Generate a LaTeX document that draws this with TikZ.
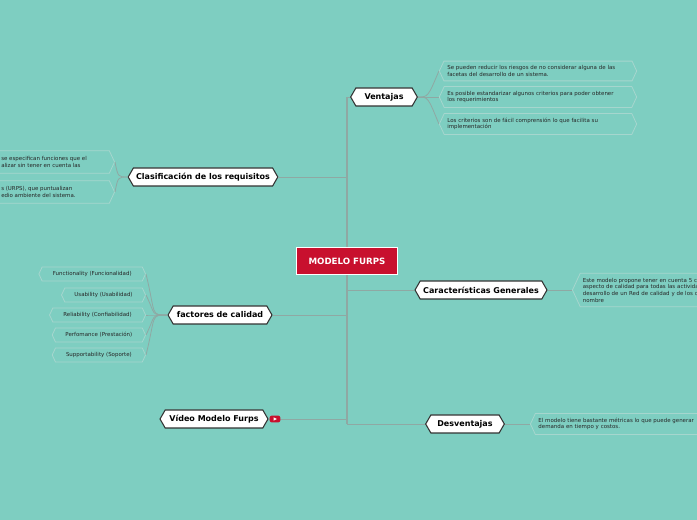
\documentclass[tikz,border=0pt]{standalone}
\usepackage{fontspec}
\setmainfont{DejaVu Sans}
\usetikzlibrary{shapes.symbols}
\definecolor{bg}{HTML}{7ECEC1}
\definecolor{ln}{HTML}{8FA8A3}
\definecolor{lf}{HTML}{A6D6CE}
\definecolor{fr}{HTML}{C8102E}
\tikzset{
  mainnode/.style={signal, signal to=west and east, signal pointer angle=120, draw=black!80, line width=0.8pt, fill=white, font=\bfseries\fontsize{6}{7}\selectfont, text=black, minimum height=13.5pt, inner xsep=2pt},
  leaf/.style={signal, signal to=west and east, signal pointer angle=130, draw=lf, line width=0.6pt, font=\fontsize{4.1}{5}\selectfont, text=black!85, minimum height=14pt, align=left, inner xsep=2pt},
  leaftext/.style={font=\fontsize{4.1}{5}\selectfont, text=black!85, align=left, inner sep=0pt, anchor=west},
  con/.style={draw=ln, line width=0.6pt},
}
\begin{document}
\begin{tikzpicture}[x=0.75pt,y=-0.75pt]
\fill[bg] (0,0) rectangle (697,520);
\useasboundingbox (0,0) rectangle (697,520);
\clip (0,0) rectangle (697,520);
% trunk
\coordinate (t1) at (347,97); \coordinate (t2) at (347,424);
\draw[con, line width=0.9pt] (t1) -- (t2);
% center
\node[fill=fr, draw=white, line width=1pt, minimum width=76pt, minimum height=20pt, font=\bfseries\fontsize{6.5}{7}\selectfont, text=white] (c) at (347,261) {MODELO FURPS};
% main nodes
\node[mainnode, minimum width=50pt] (v) at (384,97) {Ventajas};
\node[mainnode, minimum width=110pt] (cl) at (203,177) {Clasificación de los requisitos};
\node[mainnode, minimum width=99pt] (ca) at (481,290) {Características Generales};
\node[mainnode, minimum width=78pt] (fa) at (220,315) {factores de calidad};
\node[mainnode, minimum width=81pt] (vi) at (214,419) {Vídeo Modelo Furps};
\node[mainnode, minimum width=59pt] (de) at (465,424) {Desventajas};
\coordinate (tcl) at (347,177); \coordinate (tca) at (347,290);
\coordinate (tfa) at (347,315); \coordinate (tvi) at (347,419);
\draw[con] (tcl) -- (cl.east); \draw[con] (tca) -- (ca.west);
\draw[con] (tfa) -- (fa.east); \draw[con] (tvi) -- (vi.east);
\draw[con] (t2) -- (de.west); \draw[con] (t1) -- (v.west);
% youtube icon
\node[fill=fr, rounded corners=1.5pt, minimum width=8pt, minimum height=5pt, inner sep=0pt] (yt) at (275,419) {};
\fill[white] ([xshift=-1pt,yshift=1.2pt]yt.center) -- ([xshift=1.4pt]yt.center) -- ([xshift=-1pt,yshift=-1.2pt]yt.center) -- cycle;
% Ventajas leaves
\node[leaf, minimum width=148pt, text width=136pt] (v1) at (538,71) {Se pueden reducir los riesgos de no considerar alguna de las\\facetas del desarrollo de un sistema.};
\node[leaf, minimum width=148pt, text width=136pt] (v2) at (538,97) {Es posible estandarizar algunos criterios para poder obtener\\los requerimientos};
\node[leaf, minimum width=148pt, text width=136pt] (v3) at (538,124) {Los criterios son de fácil comprensión lo que facilita su\\implementación};
\foreach \n in {v1,v2,v3} \draw[con] (v.east) .. controls (428,97) and (428,97) .. (\n.west);
% Clasificacion leaves
\node[leaf, anchor=east, minimum width=160pt, minimum height=17pt] (c1) at (115,162) {};
\node[leaf, anchor=east, minimum width=160pt, minimum height=17pt] (c2) at (115,192) {};
\node[leaftext] (c1t) at (1,162) {se especifican funciones que el\\alizar sin tener en cuenta las};
\node[leaftext] (c2t) at (1,192) {s (URPS), que puntualizan\\edio ambiente del sistema.};
\foreach \n in {c1,c2} \draw[con] (cl.west) .. controls (118,177) and (118,177) .. (\n.east);
% Caracteristicas leaf
\node[leaf, minimum width=150pt, minimum height=25pt, text width=138pt, anchor=west] (ca1) at (572,290) {Este modelo propone tener en cuenta 5 c\\aspecto de calidad para todas las activida\\desarrollo de un Red de calidad y de los c\\nombre};
\draw[con] (ca.east) -- (ca1.west);
% Desventajas leaf
\node[leaf, minimum width=150pt, text width=138pt, anchor=west] (de1) at (530,424) {El modelo tiene bastante métricas lo que puede generar\\demanda en tiempo y costos.};
\draw[con] (de.east) -- (de1.west);
% factores leaves
\tikzset{fl/.style={leaf, anchor=east, minimum height=10pt, align=center}}
\node[fl, minimum width=80pt] (f1) at (146,274) {Functionality (Funcionalidad)};
\node[fl, minimum width=63pt] (f2) at (146,295) {Usability (Usabilidad)};
\node[fl, minimum width=72pt] (f3) at (146,315) {Reliability (Confiabilidad)};
\node[fl, minimum width=70pt] (f4) at (146,335) {Perfomance (Prestación)};
\node[fl, minimum width=70pt] (f5) at (146,355) {Supportability (Soporte)};
\foreach \n in {f1,f2,f3,f4,f5} \draw[con] (fa.west) .. controls (150,315) and (156,315) .. (\n.east);
\end{tikzpicture}
\end{document}
